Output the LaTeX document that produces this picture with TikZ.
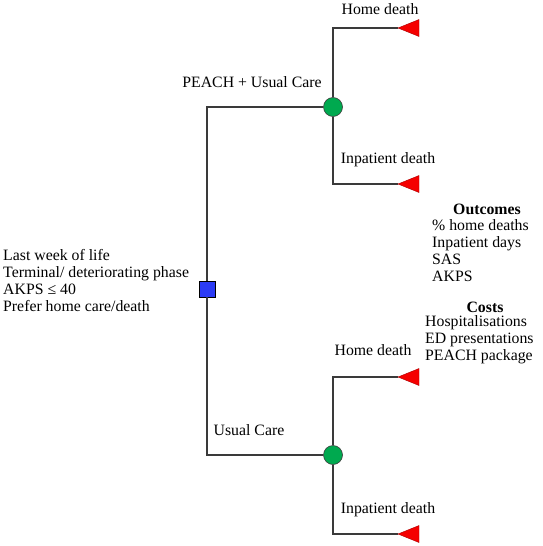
\documentclass[tikz,border=0pt]{standalone}
\usepackage{fontspec}
\setmainfont{Liberation Serif}
\usetikzlibrary{calc,positioning}
\definecolor{treeline}{HTML}{3A3A3A}
\definecolor{decfill}{HTML}{2B3BF5}
\definecolor{chancefill}{HTML}{00A94F}
\definecolor{termfill}{HTML}{F50000}
\tikzset{
    branch/.style={
        line width=1.1pt,
        color=treeline
    },
    decision/.style={
        draw=black,
        fill=decfill,
        line width=0.6pt,
        minimum size=16pt,
        inner sep=0pt
    },
    chance/.style={
        circle,
        draw=treeline,
        fill=chancefill,
        line width=0.6pt,
        minimum size=19pt,
        inner sep=0pt
    },
    terminal/.style={
        fill=termfill,
        draw=termfill!70!black,
        line width=0.4pt
    },
    treelabel/.style={
        font=\fontsize{15.8}{17}\selectfont,
        inner sep=0pt
    },
    headlabel/.style={
        font=\fontsize{15.8}{17}\selectfont\bfseries,
        inner sep=0pt
    }
}

\begin{document}
\begin{tikzpicture}[x=1pt,y=-1pt]

    \useasboundingbox (0,0) rectangle (542,546);

    % Noeuds
    \node[decision] (dec) at (207,289) {};
    \node[chance] (peach) at (333,107) {};
    \node[chance] (usual) at (333,455) {};

    % Extremites
    \coordinate (hd1) at (398,28);
    \coordinate (ip1) at (398,184);
    \coordinate (hd2) at (398,377);
    \coordinate (ip2) at (398,534);

    % Branches de decision
    \draw[branch]
        (dec.north) |- (peach.west);
    \draw[branch]
        (dec.south) |- (usual.west);

    % Branches de hasard
    \draw[branch]
        (peach.north) |- (hd1);
    \draw[branch]
        (peach.south) |- (ip1);
    \draw[branch]
        (usual.north) |- (hd2);
    \draw[branch]
        (usual.south) |- (ip2);

    % Triangles terminaux
    \foreach \t in {hd1,ip1,hd2,ip2}
        \filldraw[terminal]
            (\t) -- ++(21,-8.5) -- ++(0,17) -- cycle;

    % Etiquettes des branches
    \node[treelabel] (lpeach) at (252,82) {PEACH + Usual Care};
    \node[treelabel] (lusual) at (249,430) {Usual Care};
    \node[treelabel] (lhd1) at (380,9) {Home death};
    \node[treelabel] (lip1) at (388,160) {Inpatient death};
    \node[treelabel] (lhd2) at (373,350) {Home death};
    \node[treelabel] (lip2) at (388,510) {Inpatient death};

    % Population
    \node[
        treelabel,
        anchor=west,
        align=left
    ]
        (popn) at (3,281)
        {Last week of life\\
         Terminal/ deteriorating phase\\
         AKPS ≤ 40\\
         Prefer home care/death};

    % Outcomes
    \node[headlabel] (outhead) at (487,209) {Outcomes};
    \node[
        treelabel,
        anchor=west,
        align=left
    ]
        (outlist) at (432,251)
        {\% home deaths\\
         Inpatient days\\
         SAS\\
         AKPS};

    % Costs
    \node[headlabel] (costhead) at (485,307) {Costs};
    \node[
        treelabel,
        anchor=west,
        align=left
    ]
        (costlist) at (425,340)
        {Hospitalisations\\
         ED presentations\\
         PEACH package};

\end{tikzpicture}
\end{document}
